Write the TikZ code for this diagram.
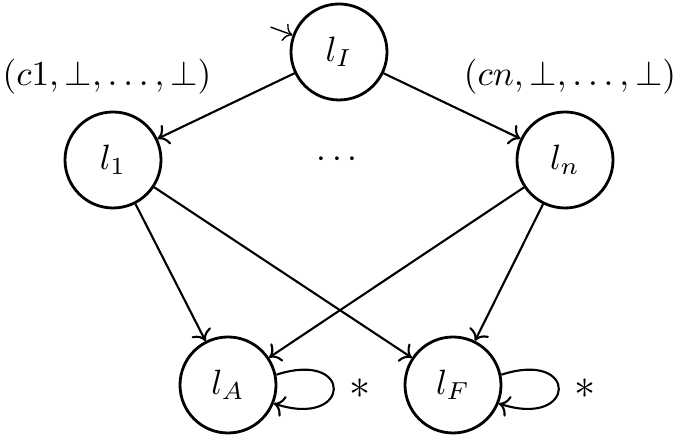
\documentclass[tikz,border=0pt]{standalone}
\usepackage{amsmath, amssymb}
\usepackage{tikz}
\usetikzlibrary{calc, positioning, arrows.meta}

\begin{document}
\begin{tikzpicture}[font=\normalsize,
    state/.style={circle, draw, thick, minimum size=0.96cm, inner sep=0pt},
    trans/.style={->, semithick}]
  \useasboundingbox (0,0) rectangle (6.85,4.4);
  % states
  \node[state] (lI) at (3.39,3.88) {$l_I$};
  \node[state] (l1) at (1.13,2.80) {$l_1$};
  \node[state] (ln) at (5.65,2.80) {$l_n$};
  \node[state] (lA) at (2.28,0.55) {$l_A$};
  \node[state] (lF) at (4.53,0.55) {$l_F$};
  \node (dots) at (3.40,2.80) {$\cdots$};
  % valuations
  \node (v1) at (1.07,3.63) {$(c1,\bot,\ldots,\bot)$};
  \node (vn) at (5.70,3.63) {$(cn,\bot,\ldots,\bot)$};
  % initial
  \coordinate (init) at ($(lI.160)+(-0.22,0.08)$);
  \draw[trans, thin] (init) -- (lI.160);
  % transitions
  \draw[trans] (lI) -- (l1);
  \draw[trans] (lI) -- (ln);
  \draw[trans] (l1) -- (lA);
  \draw[trans] (l1) -- (lF);
  \draw[trans] (ln) -- (lA);
  \draw[trans] (ln) -- (lF);
  \draw[trans] (lA.12) to[out=18, in=-18, distance=0.82cm] node[right, xshift=0.03cm] {\large$*$} (lA.-22);
  \draw[trans] (lF.12) to[out=18, in=-18, distance=0.82cm] node[right, xshift=0.03cm] {\large$*$} (lF.-22);
\end{tikzpicture}
\end{document}
